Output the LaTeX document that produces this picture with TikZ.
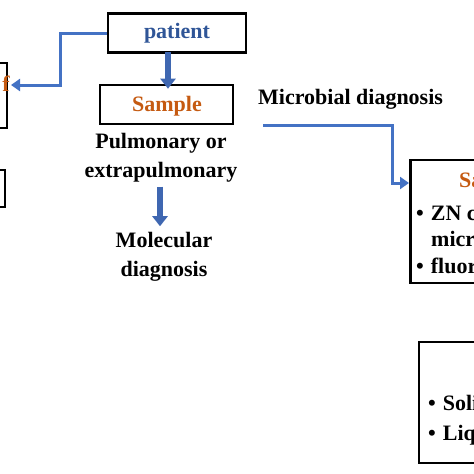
\documentclass[tikz,border=0pt]{standalone}
\usepackage{fontspec}
\setmainfont{Liberation Serif}
\usetikzlibrary{arrows.meta}
\definecolor{linkblue}{HTML}{4472C4}
\definecolor{fatblue}{HTML}{3F67B1}
\definecolor{patblue}{HTML}{2F5597}
\definecolor{sampleorange}{HTML}{C55A11}
\newcommand{\bul}{\textbullet\hspace{7pt}}
\tikzset{
  box/.style={draw=black, line width=2.6pt, inner sep=0pt},
  txt/.style={font=\bfseries\fontsize{22}{29}\selectfont, inner sep=0pt},
  link/.style={draw=linkblue, line width=3pt, -{Triangle[width=12pt,length=9pt]}},
  fatarrow/.style={draw=fatblue, line width=6.5pt, -{Triangle[width=15pt,length=10pt]}}
}

\begin{document}
\begin{tikzpicture}[x=1pt,y=-1pt]
  \useasboundingbox (0,0) rectangle (474,474);
  \clip (0,0) rectangle (474,474);
  % boxes
  \node[box, minimum width=138pt, minimum height=39pt] (patient) at (177,33) {};
  \node[txt, text=patblue] (patienttxt) at (177,33) {patient};
  \node[box, minimum width=133pt, minimum height=39pt] (sample) at (166.5,104.5) {};
  \node[txt, text=sampleorange] (sampletxt) at (167,106) {Sample};
  \node[box, minimum width=100pt, minimum height=65pt] (left1) at (-43,95.5) {};
  \node[txt, text=sampleorange, anchor=base east] (lefttxt) at (10,91) {f};
  \node[box, minimum width=100pt, minimum height=37pt] (left2) at (-45,188.5) {};
  \node[box, minimum width=120pt, minimum height=123pt] (right1) at (470.5,221.5) {};
  \node[box, minimum width=120pt, minimum height=121pt] (right2) at (479,402.5) {};
  % texts
  \node[txt, align=center] (pulm) at (161,158) {Pulmonary or\\extrapulmonary};
  \node[txt, align=center] (molec) at (164,257) {Molecular\\diagnosis};
  \node[txt, anchor=base west] (microb) at (258,104) {Microbial diagnosis};
  \node[txt, text=sampleorange, anchor=base west] (satxt) at (459,187) {Sa};
  \node[txt, anchor=base west] (zn) at (416,220) {\bul ZN c};
  \node[txt, anchor=base west] (micr) at (431,246) {micr};
  \node[txt, anchor=base west] (fluor) at (416,273) {\bul fluor};
  \node[txt, anchor=base west] (soli) at (428,410) {\bul Soli};
  \node[txt, anchor=base west] (liq) at (428,440) {\bul Liq};
  % connectors
  \coordinate (ltip) at (11,85);
  \coordinate (rstart) at (263,125);
  \coordinate (rtip) at (409,183);
  \draw[link] (patient.west) -| (60,85) -- (ltip);
  \draw[link] (rstart) -| (392,183) -- (rtip);
  \draw[fatarrow] ([xshift=-9pt,yshift=2pt]patient.south) -- ([xshift=1.5pt,yshift=-5pt]sample.north);
  \draw[fatarrow] ([xshift=-1pt,yshift=-4pt]pulm.south) -- ([xshift=-1pt,yshift=6pt]pulm.south |- molec.north);
\end{tikzpicture}
\end{document}
